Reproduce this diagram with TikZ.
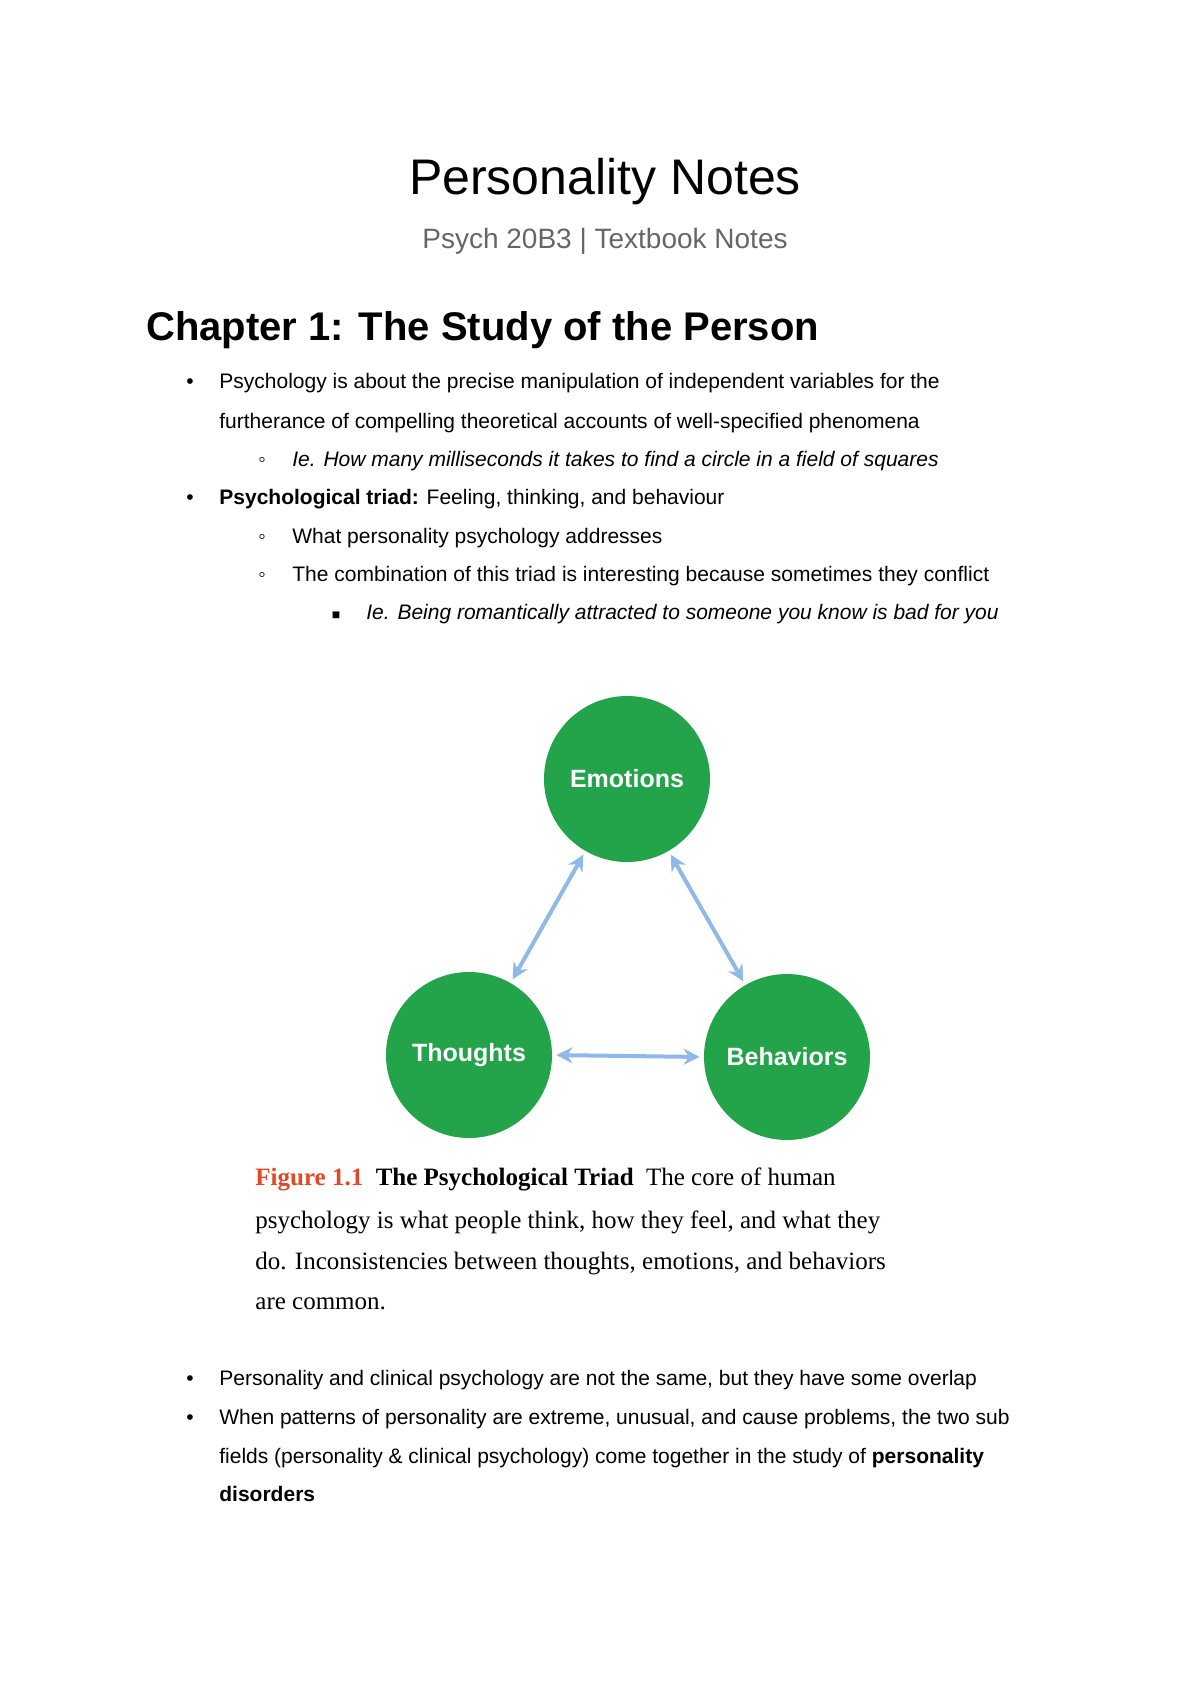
\documentclass[tikz,border=0pt]{standalone}
\usepackage{fontspec}
\setmainfont{Liberation Sans}
\newfontfamily\capfont{Liberation Serif}
\usetikzlibrary{arrows.meta}
\definecolor{cgreen}{RGB}{35,163,74}
\definecolor{cblue}{RGB}{143,185,230}
\definecolor{cred}{RGB}{226,72,40}
\definecolor{cgray}{RGB}{102,102,102}
\tikzset{
  txt/.style={anchor=base west,inner sep=0pt,font=\fontsize{10.5pt}{12pt}\selectfont},
  bul/.style={anchor=base,inner sep=0pt,font=\fontsize{10.5pt}{12pt}\selectfont},
  captxt/.style={anchor=base west,inner sep=0pt,font=\capfont\fontsize{12.5pt}{14pt}\selectfont},
  circ/.style={circle,fill=cgreen,minimum size=83pt,inner sep=0pt,text=white,font=\bfseries\fontsize{12.5pt}{14pt}\selectfont},
  arr/.style={cblue,line width=2pt,{Stealth[length=8pt,width=8pt]}-{Stealth[length=8pt,width=8pt]},shorten <=2pt,shorten >=2pt}
}
\begin{document}
\begin{tikzpicture}[x=0.5pt,y=-0.5pt]
\path[use as bounding box,fill=white] (0,0) rectangle (1200,1694);
\node[anchor=base,inner sep=0pt,font=\fontsize{25pt}{30pt}\selectfont] (title) at (605,194) {Personality Notes};
\node[anchor=base,inner sep=0pt,text=cgray,font=\fontsize{14pt}{17pt}\selectfont] (sub) at (605,248) {Psych 20B3 | Textbook Notes};
\node[anchor=base west,inner sep=0pt,font=\bfseries\fontsize{20pt}{24pt}\selectfont] (ch) at (146,340) {Chapter 1: The Study of the Person};
% bullets
\node[bul] (b1) at (190,388) {•};
\node[txt] (t1) at (219,388) {Psychology is about the precise manipulation of independent variables for the};
\node[txt] (t1b) at (219,428) {furtherance of compelling theoretical accounts of well-specified phenomena};
\node[bul] (b2) at (262,466) {◦};
\node[txt] (t2) at (292,466) {\itshape Ie. How many milliseconds it takes to find a circle in a field of squares};
\node[bul] (b3) at (190,504) {•};
\node[txt] (t3) at (219,504) {\textbf{Psychological triad:} Feeling, thinking, and behaviour};
\node[bul] (b4) at (262,543) {◦};
\node[txt] (t4) at (292,543) {What personality psychology addresses};
\node[bul] (b5) at (262,581) {◦};
\node[txt] (t5) at (292,581) {The combination of this triad is interesting because sometimes they conflict};
\node[bul] (b6) at (336,619) {\fontsize{7pt}{8pt}\selectfont ■};
\node[txt] (t6) at (366,619) {\itshape Ie. Being romantically attracted to someone you know is bad for you};
% triad
\node[circ] (em) at (627,779) {Emotions};
\node[circ] (th) at (469,1055) {Thoughts};
\node[circ] (be) at (787,1057) {Behaviors};
\draw[arr] (em.240) -- (th.60);
\draw[arr] (em.300) -- (be.120);
\draw[arr] (th.east) -- (be.west);
% caption
\node[captxt] (c1) at (255,1185) {\textcolor{cred}{\textbf{Figure 1.1}}\ \ \textbf{The Psychological Triad}\ \ The core of human};
\node[captxt] (c2) at (255,1228) {psychology is what people think, how they feel, and what they};
\node[captxt] (c3) at (255,1269) {do. Inconsistencies between thoughts, emotions, and behaviors};
\node[captxt] (c4) at (255,1309) {are common.};
% bottom bullets
\node[bul] (b7) at (190,1385) {•};
\node[txt] (t7) at (219,1385) {Personality and clinical psychology are not the same, but they have some overlap};
\node[bul] (b8) at (190,1424) {•};
\node[txt] (t8) at (219,1424) {When patterns of personality are extreme, unusual, and cause problems, the two sub};
\node[txt] (t8b) at (219,1463) {fields (personality \& clinical psychology) come together in the study of \textbf{personality}};
\node[txt] (t8c) at (219,1501) {\textbf{disorders}};
\end{tikzpicture}
\end{document}
